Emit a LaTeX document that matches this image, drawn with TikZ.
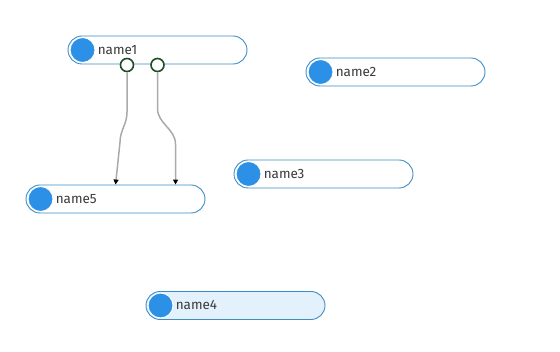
\documentclass[tikz,border=0pt]{standalone}
\usepackage{fontspec}
\setmainfont{Fira Sans}
\usepackage{tikz}
\usetikzlibrary{positioning,arrows.meta,calc}
\definecolor{pillLine}{HTML}{3D8CC4}
\definecolor{dotBlue}{HTML}{2B90E6}
\definecolor{paleBlue}{HTML}{E3F1FC}
\definecolor{portGreen}{HTML}{1F4F24}
\definecolor{linkGray}{HTML}{AAAAAA}
\definecolor{textGray}{HTML}{3A3A3A}
\tikzset{
  pill/.style={rectangle, rounded corners=14pt, draw=pillLine, fill=white, line width=0.9pt,
               minimum width=179pt, minimum height=28pt, inner sep=0pt},
  active/.style={pill, fill=paleBlue},
  dot/.style={circle, fill=dotBlue, draw=white, line width=1pt, minimum size=25pt, inner sep=0pt},
  lbl/.style={anchor=west, inner sep=0pt, text=textGray, font=\fontsize{13.5}{16}\selectfont},
  port/.style={circle, draw=portGreen, fill=white, line width=1.6pt, minimum size=13pt, inner sep=0pt},
  link/.style={-{Triangle[length=5pt,width=5pt,color=black]}, draw=linkGray, line width=1.5pt}
}
\begin{document}
\begin{tikzpicture}[x=1pt, y=-1pt]
\useasboundingbox (0,0) rectangle (560,352);

\node[pill] (name1) at (157.5,50) {};
\node[dot] (name1dot) at ([xshift=15pt]name1.west) {};
\node[lbl, right=2pt of name1dot] (name1txt) {name1};

\node[pill] (name2) at (395.5,72) {};
\node[dot] (name2dot) at ([xshift=15pt]name2.west) {};
\node[lbl, right=2pt of name2dot] (name2txt) {name2};

\node[pill] (name3) at (323.5,174) {};
\node[dot] (name3dot) at ([xshift=15pt]name3.west) {};
\node[lbl, right=2pt of name3dot] (name3txt) {name3};

\node[pill] (name5) at (115.5,199) {};
\node[dot] (name5dot) at ([xshift=15pt]name5.west) {};
\node[lbl, right=2pt of name5dot] (name5txt) {name5};

\node[active] (name4) at (235.5,305.5) {};
\node[dot] (name4dot) at ([xshift=15pt]name4.west) {};
\node[lbl, right=2pt of name4dot] (name4txt) {name4};

% output ports of name1
\node[port] (out1) at (127,65) {};
\node[port] (out2) at (157.5,65) {};

\coordinate (in1) at ($(name5.north west)+(90,0)$);
\coordinate (in2) at ($(name5.north west)+(150,0)$);

\draw[link] (out1.south) -- ++(0,40) to[out=-90,in=90] ++(-7,30) -- (in1);
\draw[link] (out2.south) -- ++(0,36) to[out=-90,in=90] ++(18,36) -- (in2);
\end{tikzpicture}
\end{document}
